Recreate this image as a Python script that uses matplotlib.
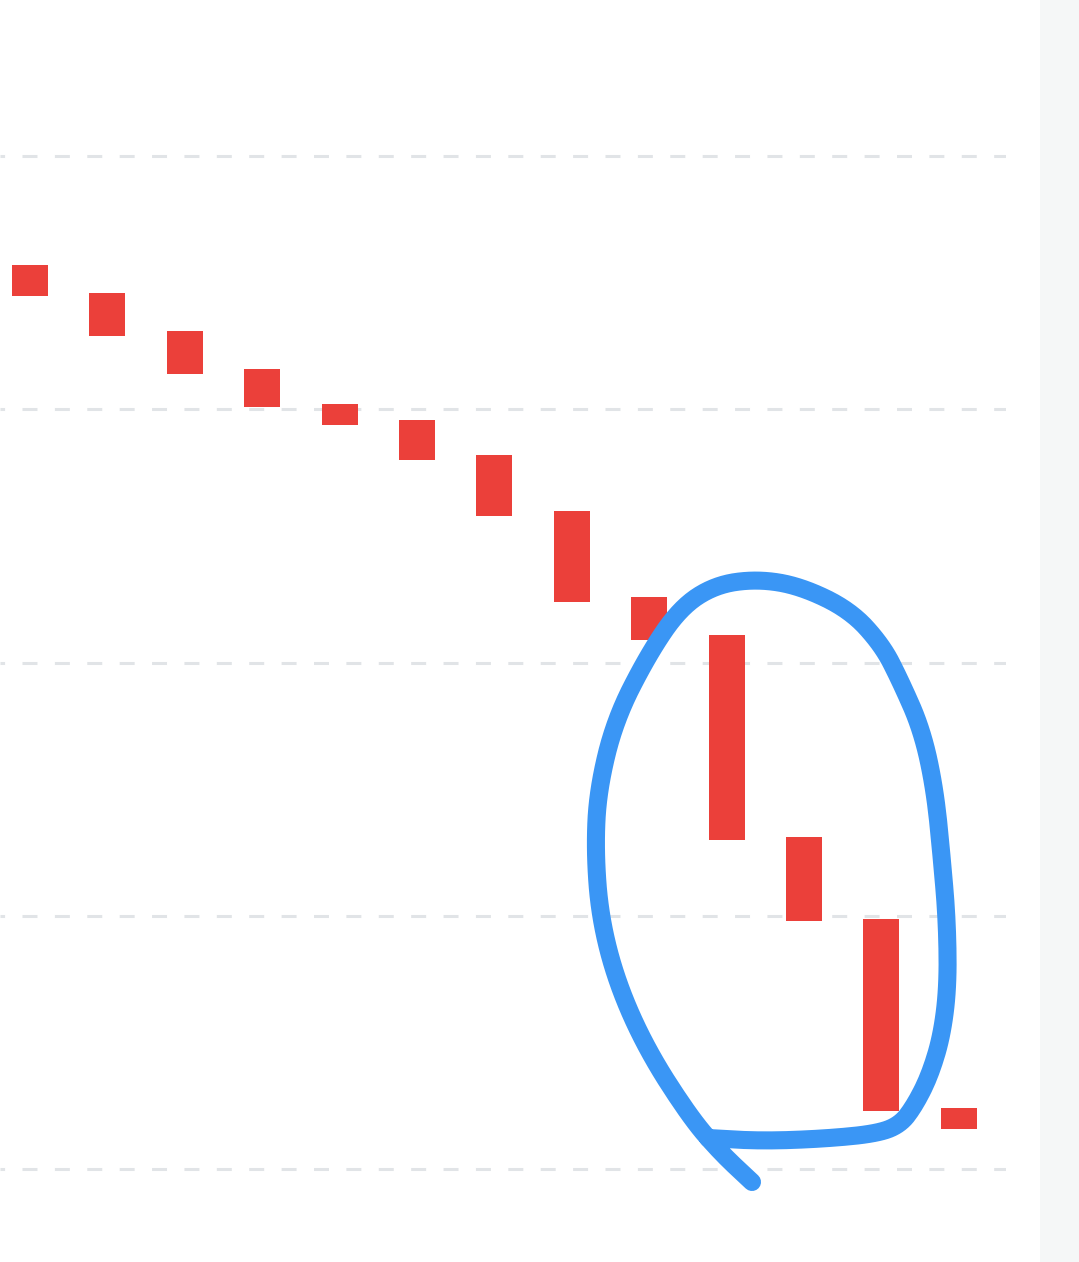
import matplotlib
matplotlib.use("Agg")
import matplotlib.pyplot as plt
from matplotlib.patches import Rectangle
import numpy as np

# floating bar values (gridlines every 100 units)
steps = list(range(13))
bar_tops = [357, 346, 331, 316, 302, 296, 282, 260, 226, 211, 131, 99, 24]
bar_bottoms = [345, 329, 314, 301, 294, 280, 258, 224, 209, 130, 98, 23, 16]
grid_values = [0, 100, 200, 300, 400]

# hand drawn circle around the last bars, in pixels of the screenshot
ring_px = [(708, 1138), (760, 1141), (820, 1139), (875, 1134), (900, 1125),
           (915, 1105), (930, 1075), (942, 1035), (948, 985), (947, 920),
           (942, 860), (935, 790), (922, 730), (900, 680), (882, 645),
           (850, 610), (800, 586), (757, 579), (715, 585), (680, 608),
           (648, 655), (615, 720), (598, 790), (595, 850), (600, 917),
           (617, 983), (647, 1050), (690, 1117), (720, 1152), (752, 1182)]

W, H = 1079, 1262
fig = plt.figure(figsize=(W / 100, H / 100), dpi=100)
fig.patch.set_facecolor('white')

# light strip on the right edge
fig.patches.append(Rectangle((1040 / W, 0), 1 - 1040 / W, 1, transform=fig.transFigure,
                             facecolor='#f5f7f7', edgecolor='none', zorder=0))

ax = fig.add_axes([0, (H - 1230) / H, 1006 / W, 1170 / H])
ax.set_facecolor('none')

heights = [t - b for t, b in zip(bar_tops, bar_bottoms)]
ax.bar(steps, heights, bottom=bar_bottoms, width=0.465, color='#eb403a', zorder=3)

for g in grid_values:
    ax.axhline(g, color='#e1e4e7', lw=2.2, linestyle=(3.4, (4.9, 5.7)), zorder=1)

ax.set_xlim(-0.388, 12.61)
ax.set_ylim(-24, 438)
ax.set_xticks([])
ax.set_yticks([])
for s in ax.spines.values():
    s.set_visible(False)


def chaikin(pts, n=3):
    pts = np.asarray(pts, float)
    for _ in range(n):
        q = 0.75 * pts[:-1] + 0.25 * pts[1:]
        r = 0.25 * pts[:-1] + 0.75 * pts[1:]
        new = np.empty((len(q) * 2, 2))
        new[0::2] = q
        new[1::2] = r
        pts = np.vstack([pts[:1], new, pts[-1:]])
    return pts


ring = chaikin(ring_px)
fig.add_artist(plt.Line2D(ring[:, 0] / W, 1 - ring[:, 1] / H, transform=fig.transFigure,
                          color='#3a96f5', lw=13, solid_capstyle='round',
                          solid_joinstyle='round', zorder=5))

fig.savefig('out.png', dpi=100)
